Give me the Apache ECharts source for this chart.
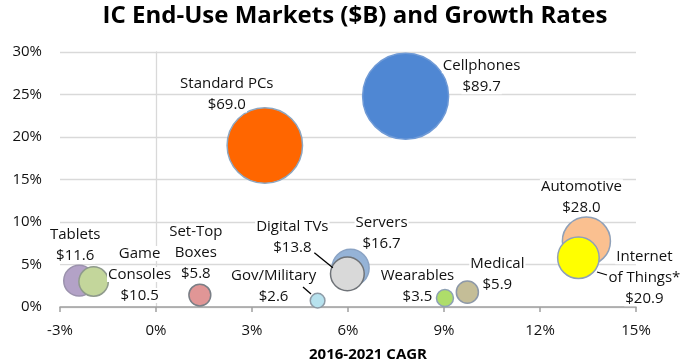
<!DOCTYPE html>
<html><head><meta charset="utf-8">
<script src="https://cdn.jsdelivr.net/npm/echarts@6/dist/echarts.min.js"></script>
<style>html,body{margin:0;padding:0;background:#fff}#c{width:685px;height:363px}</style>
</head><body><div id="c"></div>
<script>
var names = ['Cellphones','Standard PCs','Tablets','Game Consoles','Set-Top Boxes','Gov/Military','Servers','Digital TVs','Wearables','Medical','Automotive','Internet of Things*'];
var labelTexts = ['Cellphones\n$89.7','Standard PCs\n$69.0','Tablets\n$11.6','Game\nConsoles\n$10.5','Set-Top\nBoxes\n$5.8','Gov/Military\n$2.6','Servers\n$16.7','Digital TVs\n$13.8','Wearables\n$3.5','Medical\n$5.9','Automotive\n$28.0','Internet\nof Things*\n$20.9'];
var cagr = [7.8, 3.4, -2.4, -1.95, 1.37, 5.05, 6.08, 5.98, 9.03, 9.73, 13.45, 13.2];
var growth = [24.8, 19.0, 3.1, 3.0, 1.4, 0.75, 4.6, 3.9, 1.05, 1.75, 7.75, 5.8];
var market = [89.7, 69.0, 11.6, 10.5, 5.8, 2.6, 16.7, 13.8, 3.5, 5.9, 28.0, 20.9];
var xTicks = [-3, 0, 3, 6, 9, 12, 15];
var yTicks = [0, 5, 10, 15, 20, 25, 30];

// styling and label placement (pixel offsets relative to each bubble centre)
var style = {
  'Cellphones': {c:'#4f87d3', b:'#6f9ad6', off:[76,-20]},
  'Standard PCs': {c:'#ff6600', b:'#8da6c0', off:[-38,-51]},
  'Tablets': {c:'#b3a2c7', b:'#9b92ad', off:[-4,-35]},
  'Game Consoles': {c:'#c3d69b', b:'#8f9a8c', off:[46,-7]},
  'Set-Top Boxes': {c:'#e09696', b:'#7a7f86', off:[-4,-42]},
  'Gov/Military': {c:'#b7e2ee', b:'#8d9aa5', off:[-44,-14], lead:[[-14.6,-13.6],[-6.6,-6.6]]},
  'Servers': {c:'#95b3d7', b:'#8aa3c4', off:[31,-35]},
  'Digital TVs': {c:'#d9d9d9', b:'#6f7378', off:[-55,-37], lead:[[-33,-21],[-14.5,-6]]},
  'Wearables': {c:'#aedd6a', b:'#8da0b5', off:[-27.5,-12]},
  'Medical': {c:'#c4bd97', b:'#8d98a8', off:[30,-18]},
  'Automotive': {c:'#fac090', b:'#8fa0b8', off:[-5,-44]},
  'Internet of Things*': {c:'#ffff00', b:'#8fa0b8', off:[66,20], lead:[[18.6,14.3],[28.6,17.3]]}
};

var data = names.map(function(n, i){
  var s = style[n];
  return {
    name: n,
    value: [cagr[i], growth[i], market[i]],
    itemStyle: {color: s.c, borderColor: s.b, borderWidth: 1.5, opacity: 1},
    label: {show: true, position: 'inside', offset: s.off,
      formatter: labelTexts[i].split('\n').map(function(t){ return '{t|' + t + '}'; }).join('\n')}
  };
});

var FONT = '"Open Sans", "Noto Sans", sans-serif';
var chart = echarts.init(document.getElementById('c'), null, {renderer: 'canvas'});
chart.setOption({
  animation: false,
  backgroundColor: '#fff',
  title: {
    text: 'IC End-Use Markets ($B) and Growth Rates',
    left: 350, top: -1, textAlign: 'center',
    textStyle: {fontFamily: FONT, fontWeight: 'bold', fontSize: 24, color: '#000'}
  },
  grid: {left: 60, right: 49, top: 52, bottom: 56, containLabel: false, outerBoundsMode: 'none'},
  xAxis: {
    type: 'value', min: -3, max: 15, interval: 3,
    name: '2016-2021 CAGR', nameLocation: 'middle', nameGap: 40,
    nameTextStyle: {fontFamily: FONT, fontWeight: 'bold', fontSize: 15, color: '#000', padding: [0,0,0,40]},
    axisLine: {show: true, onZero: false, lineStyle: {color: '#a0a0a0', width: 1.5}},
    axisTick: {show: true, length: 5, lineStyle: {color: '#a0a0a0', width: 1.5}},
    axisLabel: {fontFamily: FONT, fontSize: 15, color: '#111', margin: 16, formatter: function(v){ return xTicks.indexOf(v) >= 0 ? v + '%' : ''; }},
    splitLine: {show: false},
    z: 1
  },
  yAxis: [{
    type: 'value', min: 0, max: 30, interval: 5,
    axisLine: {show: false}, axisTick: {show: false},
    axisLabel: {fontFamily: FONT, fontSize: 15, color: '#111', margin: 18, formatter: function(v){ return yTicks.indexOf(v) >= 0 ? v + '%' : ''; }},
    splitLine: {show: true, lineStyle: {color: '#d9d9d9', width: 1.3}}
  }, {
    type: 'value', min: 0, max: 30, interval: 5, position: 'left',
    axisLine: {show: true, onZero: true, onZeroAxisIndex: 0, lineStyle: {color: '#d9d9d9', width: 1.3}},
    axisTick: {show: false}, axisLabel: {show: false}, splitLine: {show: false},
    z: 0
  }],
  series: [{
    type: 'scatter',
    data: data,
    symbolSize: function(v){ return 9.08 * Math.sqrt(v[2]); },
    itemStyle: {opacity: 1},
    label: {fontFamily: FONT, fontSize: 15, color: '#111', lineHeight: 21, align: 'center',
      rich: {t: {fontFamily: FONT, fontSize: 15, color: '#111', lineHeight: 21, backgroundColor: '#fff', padding: [0, 1]}}},
    emphasis: {disabled: true},
    z: 3
  }]
});

// leader lines placed from each bubble's pixel position (through the chart's own scales)
var leaders = [];
names.forEach(function(n, i){
  var l = style[n].lead;
  if (!l) return;
  var p = chart.convertToPixel({gridIndex: 0}, [cagr[i], growth[i]]);
  leaders.push({type: 'line', silent: true, z: 100,
    shape: {x1: p[0] + l[0][0], y1: p[1] + l[0][1], x2: p[0] + l[1][0], y2: p[1] + l[1][1]},
    style: {stroke: '#000', lineWidth: 1.3}});
});
chart.setOption({graphic: leaders});
</script></body></html>
